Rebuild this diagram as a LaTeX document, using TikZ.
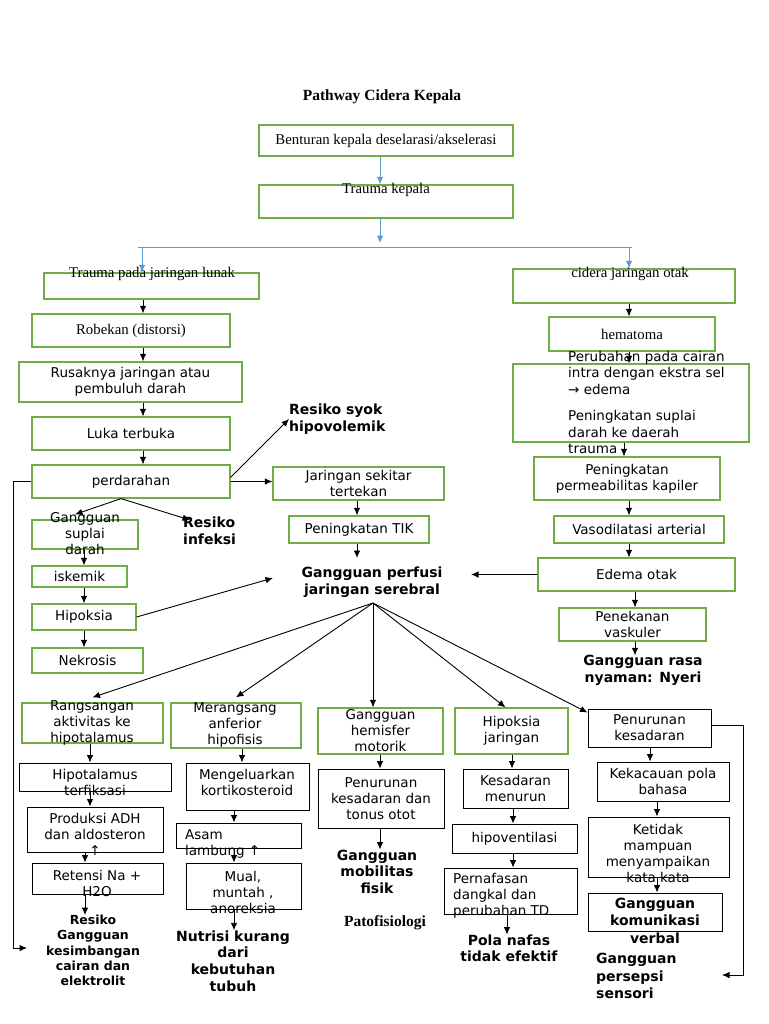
\documentclass[tikz,border=0pt]{standalone}
\usepackage{fontspec}
\setmainfont{Liberation Serif}
\setsansfont{DejaVu Sans}
\usetikzlibrary{arrows.meta}
\definecolor{boxgreen}{RGB}{112,173,71}
\definecolor{linkblue}{RGB}{91,155,213}
\begin{document}
\begin{tikzpicture}[x=1pt,y=-1pt,
	gbox/.style={draw=boxgreen,line width=1.2pt,inner sep=0pt},
	kbox/.style={draw=black,line width=0.9pt,inner sep=0pt},
	txt/.style={font=\sffamily\fontsize{13.5}{16}\selectfont,align=center,inner sep=0pt},
	stxt/.style={font=\rmfamily\fontsize{14.8}{17}\selectfont,inner sep=0pt},
	outc/.style={font=\sffamily\bfseries\fontsize{14}{16.5}\selectfont,align=center,inner sep=0pt},
	arr/.style={-{Latex[length=7.5pt,width=6.5pt]},line width=0.9pt},
	barr/.style={-{Latex[length=7.5pt,width=6.5pt]},draw=linkblue,line width=1pt}]
		\fill[white] (0,0) rectangle (768,1024);
		\useasboundingbox (0,0) rectangle (768,1024);
		\node[stxt,font=\rmfamily\bfseries\fontsize{15.5}{18}\selectfont] (title) at (382,97) {Pathway Cidera Kepala};
		\node[gbox,stxt,minimum width=254,minimum height=31] (bentur) at (386,140.5) {Benturan kepala deselarasi/akselerasi};
		\node[gbox,minimum width=254,minimum height=33] (trauma) at (386,201.5) {};
		\node[stxt] (trauma-t) at (386,190) {Trauma kepala};
		\coordinate (split) at (380,247);
		\coordinate (splitL) at (142,247);
		\coordinate (splitR) at (629,247);
		\node[gbox,minimum width=215,minimum height=26] (lunak) at (151.5,286) {};
		\node[stxt] (lunak-t) at (152,274) {Trauma pada jaringan lunak};
		\node[gbox,minimum width=222,minimum height=34] (cidera) at (624,286) {};
		\node[stxt] (cidera-t) at (630,274) {cidera jaringan otak};
		\draw[barr] (bentur.south -| split) -- (trauma.north -| split);
		\draw[barr] (trauma.south -| split) -- ([yshift=4pt]split);
		\draw[linkblue,line width=1pt] ([xshift=-4pt]splitL) -- ([xshift=3pt]splitR);
		\draw[barr] (splitL) -- (lunak.north -| splitL);
		\draw[barr] (splitR) -- (cidera.north -| splitR);
		\node[gbox,stxt,minimum width=198,minimum height=33] (robek) at (131,330.5) {Robekan (distorsi)};
		\node[gbox,txt,minimum width=223,minimum height=40] (rusak) at (130.5,382) {Rusaknya jaringan atau\\pembuluh darah};
		\node[gbox,txt,minimum width=198,minimum height=33] (luka) at (131,433.5) {Luka terbuka};
		\node[gbox,txt,minimum width=198,minimum height=33] (perd) at (131,481.5) {perdarahan};
		\draw[arr] (lunak.south -| 143,0) -- (robek.north -| 143,0);
		\draw[arr] (robek.south -| 143,0) -- (rusak.north -| 143,0);
		\draw[arr] (rusak.south -| 143,0) -- (luka.north -| 143,0);
		\draw[arr] (luka.south -| 143,0) -- (perd.north -| 143,0);
		\node[outc,align=left,anchor=west] (syok) at (289,419) {Resiko syok\\hipovolemik};
		\draw[arr] ([yshift=4pt]perd.east) -- (syok.west);
		\node[gbox,txt,minimum width=171,minimum height=33] (jsek) at (358.5,483.5) {Jaringan sekitar\\tertekan};
		\node[gbox,txt,minimum width=140,minimum height=27] (tik) at (359,529.5) {Peningkatan TIK};
		\node[outc] (perfusi) at (372,582) {Gangguan perfusi\\jaringan serebral};
		\coordinate (pfT) at (357,558);
		\coordinate (pfL) at (273,578);
		\coordinate (pfR) at (471,577);
		\coordinate (fan) at (373,603);
		\draw[arr] (perd.east) -- (perd.east -| jsek.west);
		\draw[arr] (jsek.south -| pfT) -- (tik.north -| pfT);
		\draw[arr] (tik.south -| pfT) -- (pfT);
		\node[gbox,minimum width=106,minimum height=29] (suplai) at (85,534.5) {};
		\node[txt] (suplai-t) at (85,534) {Gangguan\\suplai\\darah};
		\node[outc,align=left,anchor=west] (infeksi) at (183,531) {Resiko\\infeksi};
		\coordinate (infT) at (190,520);
		\draw[arr] ([xshift=-10pt]perd.south) -- ([xshift=-10pt,yshift=5pt]suplai.north);
		\draw[arr] ([xshift=-10pt]perd.south) -- (infT);
		\node[gbox,txt,minimum width=95,minimum height=21] (isk) at (79.5,576.5) {iskemik};
		\node[gbox,txt,minimum width=104,minimum height=26] (hipok) at (84,617) {Hipoksia};
		\node[gbox,txt,minimum width=111,minimum height=25] (nekro) at (87.5,660.5) {Nekrosis};
		\draw[arr] (suplai.south -| 84,0) -- (isk.north -| 84,0);
		\draw[arr] (isk.south -| 84,0) -- (hipok.north -| 84,0);
		\draw[arr] (hipok.south -| 84,0) -- (nekro.north -| 84,0);
		\draw[arr] (hipok.east) -- (pfL);
		\node[gbox,stxt,minimum width=166,minimum height=34] (hemat) at (632,334) {hematoma};
		\node[gbox,minimum width=236,minimum height=78] (perub) at (631,403) {};
		\node[txt,align=left,anchor=west,font=\sffamily\fontsize{13.5}{16.5}\selectfont] (perub-t) at (568,402.5) {Perubahan pada cairan\\intra dengan ekstra sel\\→ edema\\[10pt]Peningkatan suplai\\darah ke daerah\\trauma};
		\node[gbox,txt,minimum width=186,minimum height=43] (perm) at (627,478.5) {Peningkatan\\permeabilitas kapiler};
		\node[gbox,txt,minimum width=170,minimum height=27] (vaso) at (639,529.5) {Vasodilatasi arterial};
		\node[gbox,txt,minimum width=197,minimum height=33] (edema) at (636.5,574.5) {Edema otak};
		\node[gbox,txt,minimum width=147,minimum height=33] (penek) at (632.5,624.5) {Penekanan\\vaskuler};
		\node[outc] (nyeri) at (643,670.5) {Gangguan rasa\\nyaman: Nyeri};
		\draw[arr] (cidera.south -| 629,0) -- (hemat.north -| 629,0);
		\draw[arr] (hemat.south -| 629,0) -- (perub.north -| 629,0);
		\draw[arr] (perub.south -| 624,0) -- (perm.north -| 624,0);
		\draw[arr] (perm.south -| 629,0) -- (vaso.north -| 629,0);
		\draw[arr] (vaso.south -| 629,0) -- (edema.north -| 629,0);
		\draw[arr] (edema.south -| 635,0) -- (penek.north -| 635,0);
		\draw[arr] (penek.south -| 635,0) -- (nyeri.north -| 635,0);
		\draw[arr] (edema.west) -- (edema.west -| pfR);
		\node[gbox,minimum width=141,minimum height=40] (rang) at (92.5,723) {};
		\node[txt] (rang-t) at (92,723) {Rangsangan\\aktivitas ke\\hipotalamus};
		\node[kbox,minimum width=152,minimum height=28] (hipot) at (95,777) {};
		\node[txt] (hipot-t) at (95,782.5) {Hipotalamus\\terfiksasi};
		\node[kbox,minimum width=136,minimum height=45] (prod) at (95,829.5) {};
		\node[txt] (prod-t) at (95,834) {Produksi ADH\\dan aldosteron\\↑};
		\node[kbox,minimum width=131,minimum height=31] (ret) at (97.5,878.5) {};
		\node[txt] (ret-t) at (97,883.5) {Retensi Na +\\H2O};
		\node[outc,font=\sffamily\bfseries\fontsize{12.5}{15.2}\selectfont] (keseim) at (93,950.5) {Resiko\\Gangguan\\kesimbangan\\cairan dan\\elektrolit};
		\coordinate (kesT) at (27,948);
		\draw[arr] (fan) -- ([yshift=5pt]rang.north);
		\draw[arr] (rang.south -| 90,0) -- (hipot.north -| 90,0);
		\draw[arr] (hipot.south -| 90,0) -- (prod.north -| 90,0);
		\draw[arr] (prod.south -| 85,0) -- (ret.north -| 85,0);
		\draw[arr] (ret.south -| 85,0) -- (keseim.north -| 85,0);
		\draw[arr] (perd.west) -| (13,948) -- (kesT);
		\node[gbox,minimum width=130,minimum height=45] (merang) at (236,725.5) {};
		\node[txt] (merang-t) at (235,724.5) {Merangsang\\anferior\\hipofisis};
		\node[kbox,minimum width=123,minimum height=47] (meng) at (247.5,786.5) {};
		\node[txt] (meng-t) at (247,782.5) {Mengeluarkan\\kortikosteroid};
		\node[kbox,minimum width=125,minimum height=25] (asam) at (238.5,835.5) {};
		\node[txt,align=left,anchor=west] (asam-t) at (185,843.5) {Asam\\lambung ↑};
		\node[kbox,minimum width=115,minimum height=46] (mual) at (243.5,886) {};
		\node[txt] (mual-t) at (243,892) {Mual,\\muntah ,\\anoreksia};
		\node[outc,font=\sffamily\bfseries\fontsize{14}{16.7}\selectfont] (nutri) at (233,961) {Nutrisi kurang\\dari\\kebutuhan\\tubuh};
		\draw[arr] (fan) -- ([yshift=5pt]merang.north);
		\draw[arr] (merang.south -| 242,0) -- (meng.north -| 242,0);
		\draw[arr] (meng.south -| 234,0) -- (asam.north -| 234,0);
		\draw[arr] (asam.south -| 234,0) -- (mual.north -| 234,0);
		\draw[arr] (mual.south -| 234,0) -- (nutri.north -| 234,0);
		\node[gbox,txt,minimum width=125,minimum height=46] (hemis) at (380.5,731) {Gangguan\\hemisfer\\motorik};
		\node[kbox,txt,minimum width=126,minimum height=59] (penkes) at (381,798.5) {Penurunan\\kesadaran dan\\tonus otot};
		\node[outc] (mobil) at (377,871.5) {Gangguan\\mobilitas\\fisik};
		\node[stxt,font=\rmfamily\bfseries\fontsize{15.5}{18}\selectfont] (patof) at (385,923) {Patofisiologi};
		\draw[arr] (fan) -- (hemis.north -| fan);
		\draw[arr] (hemis.south -| 380,0) -- (penkes.north -| 380,0);
		\draw[arr] (penkes.south -| 380,0) -- (mobil.north -| 380,0);
		\node[gbox,txt,minimum width=113,minimum height=46] (hipj) at (511.5,731) {Hipoksia\\jaringan};
		\node[kbox,txt,minimum width=105,minimum height=39] (kesm) at (515.5,788.5) {Kesadaran\\menurun};
		\node[kbox,txt,minimum width=125,minimum height=29] (hipov) at (514.5,838.5) {hipoventilasi};
		\node[kbox,minimum width=133,minimum height=46] (pern) at (510.5,891) {};
		\node[txt,align=left,anchor=west] (pern-t) at (453,895.7) {Pernafasan\\dangkal dan\\perubahan TD};
		\node[outc] (pola) at (509,948.5) {Pola nafas\\tidak efektif};
		\draw[arr] (fan) -- ([xshift=-6pt]hipj.north);
		\draw[arr] (hipj.south -| 512,0) -- (kesm.north -| 512,0);
		\draw[arr] (kesm.south -| 513,0) -- (hipov.north -| 513,0);
		\draw[arr] (hipov.south -| 513,0) -- (pern.north -| 513,0);
		\draw[arr] (pern.south -| 507,0) -- (pola.north -| 507,0);
		\node[kbox,txt,minimum width=123,minimum height=38] (pkes) at (649.5,728) {Penurunan\\kesadaran};
		\node[kbox,txt,minimum width=132,minimum height=39] (keka) at (663,781.5) {Kekacauan pola\\bahasa};
		\node[kbox,minimum width=141,minimum height=60] (ketid) at (658.5,847) {};
		\node[txt] (ketid-t) at (658,853) {Ketidak\\mampuan\\menyampaikan\\kata kata};
		\node[kbox,minimum width=134,minimum height=38] (komun) at (655,912) {};
		\node[outc,font=\sffamily\bfseries\fontsize{14}{17.5}\selectfont] (komun-t) at (655,920.7) {Gangguan\\komunikasi\\verbal};
		\node[outc,align=left,anchor=west,font=\sffamily\bfseries\fontsize{14}{17.5}\selectfont] (sensori) at (596,976) {Gangguan\\persepsi\\sensori};
		\coordinate (sensT) at (722,975);
		\draw[arr] (fan) -- ([yshift=-4pt]pkes.north west);
		\draw[arr] (pkes.south -| 650,0) -- (keka.north -| 650,0);
		\draw[arr] (keka.south -| 657,0) -- (ketid.north -| 657,0);
		\draw[arr] (ketid.south -| 657,0) -- (komun.north -| 657,0);
		\draw[arr] ([yshift=3pt]pkes.east) -| (743,975) -- (sensT);
	    \end{tikzpicture}
\end{document}
